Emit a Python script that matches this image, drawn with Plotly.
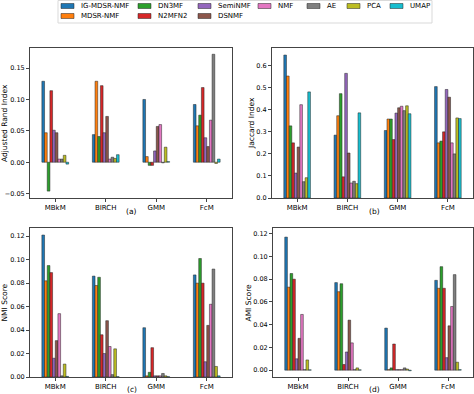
import plotly.graph_objects as go

W, H = 474, 394

categories = ["MBkM", "BIRCH", "GMM", "FcM"]
methods = ["IG-MDSR-NMF", "MDSR-NMF", "DN3MF", "N2MFN2", "SemiNMF",
           "DSNMF", "NMF", "AE", "PCA", "UMAP"]
colors = ["#1f77b4", "#ff7f0e", "#2ca02c", "#d62728", "#9467bd",
          "#8c564b", "#e377c2", "#7f7f7f", "#bcbd22", "#17becf"]

# values[method] = [MBkM, BIRCH, GMM, FcM]
ari = {
    "IG-MDSR-NMF": [0.129, 0.044, 0.100, 0.092],
    "MDSR-NMF":    [0.047, 0.129, 0.009, 0.058],
    "DN3MF":       [-0.046, 0.041, -0.005, 0.075],
    "N2MFN2":      [0.114, 0.122, -0.005, 0.119],
    "SemiNMF":     [0.051, 0.047, 0.018, 0.039],
    "DSNMF":       [0.047, 0.073, 0.057, 0.025],
    "NMF":         [0.005, 0.005, 0.060, 0.067],
    "AE":          [0.005, 0.008, -0.001, 0.172],
    "PCA":         [0.011, 0.006, 0.024, -0.002],
    "UMAP":        [-0.003, 0.012, 0.001, 0.005],
}
jaccard = {
    "IG-MDSR-NMF": [0.648, 0.285, 0.306, 0.505],
    "MDSR-NMF":    [0.553, 0.373, 0.358, 0.250],
    "DN3MF":       [0.327, 0.473, 0.358, 0.258],
    "N2MFN2":      [0.250, 0.096, 0.265, 0.300],
    "SemiNMF":     [0.113, 0.565, 0.385, 0.492],
    "DSNMF":       [0.231, 0.204, 0.409, 0.457],
    "NMF":         [0.423, 0.068, 0.416, 0.250],
    "AE":          [0.074, 0.076, 0.396, 0.200],
    "PCA":         [0.092, 0.065, 0.418, 0.363],
    "UMAP":        [0.481, 0.386, 0.382, 0.360],
}
nmi = {
    "IG-MDSR-NMF": [0.121, 0.086, 0.042, 0.087],
    "MDSR-NMF":    [0.082, 0.078, 0.001, 0.080],
    "DN3MF":       [0.095, 0.085, 0.004, 0.101],
    "N2MFN2":      [0.089, 0.036, 0.025, 0.080],
    "SemiNMF":     [0.016, 0.020, 0.001, 0.013],
    "DSNMF":       [0.031, 0.048, 0.001, 0.044],
    "NMF":         [0.054, 0.026, 0.001, 0.062],
    "AE":          [0.001, 0.002, 0.003, 0.092],
    "PCA":         [0.011, 0.024, 0.001, 0.009],
    "UMAP":        [0.0005, 0.0003, 0.0003, 0.001],
}
ami = {
    "IG-MDSR-NMF": [0.117, 0.077, 0.037, 0.079],
    "MDSR-NMF":    [0.073, 0.069, 0.0005, 0.072],
    "DN3MF":       [0.085, 0.076, 0.002, 0.091],
    "N2MFN2":      [0.080, 0.005, 0.023, 0.072],
    "SemiNMF":     [0.010, 0.016, 0.0005, 0.011],
    "DSNMF":       [0.028, 0.044, 0.0005, 0.039],
    "NMF":         [0.049, 0.024, 0.0005, 0.056],
    "AE":          [0.0005, 0.0005, 0.002, 0.084],
    "PCA":         [0.009, 0.002, 0.001, 0.007],
    "UMAP":        [0.0003, 0.0003, -0.0005, 0.0005],
}

panels = [
    (ari, "Adjusted Rand Index", "(a)", [-0.057, 0.182], [-0.05, 0, 0.05, 0.10, 0.15], ".2f"),
    (jaccard, "Jaccard Index", "(b)", [0, 0.68], [0, 0.1, 0.2, 0.3, 0.4, 0.5, 0.6], ".1f"),
    (nmi, "NMI Score", "(c)", [0, 0.127], [0, 0.02, 0.04, 0.06, 0.08, 0.10, 0.12], ".2f"),
    (ami, "AMI Score", "(d)", [-0.006, 0.125], [0, 0.02, 0.04, 0.06, 0.08, 0.10, 0.12], ".2f"),
]

# panel pixel boxes: (left, right, top, bottom)
boxes = [(30, 232, 48, 198), (272, 473, 48, 198),
         (30, 232, 228, 377), (273, 473, 228, 377)]
ytitle_x = [4, 251, 4, 248]          # centre x of the y-axis titles (px)
label_pos = [(131, 212), (374, 212), (132, 389), (374, 389)]

FONT = "DejaVu Sans"
TICK = 6.5
fig = go.Figure()
layout = dict(
    width=W, height=H, margin=dict(l=0, r=0, t=0, b=0, autoexpand=False),
    paper_bgcolor="white", plot_bgcolor="white",
    barmode="group", bargap=0.47, bargroupgap=0,
    showlegend=False, font=dict(family=FONT, size=8, color="black"),
)
annotations = []

for p, (data, ytitle, label, yr, tv, fmt) in enumerate(panels):
    sfx = "" if p == 0 else str(p + 1)
    for m, c in zip(methods, colors):
        fig.add_trace(go.Bar(
            x=categories, y=data[m], name=m, marker_color=c,
            marker_line=dict(color="#222", width=0.5),
            xaxis="x" + sfx, yaxis="y" + sfx, offsetgroup=m,
        ))
    l, r, t, b = boxes[p]
    layout["xaxis" + sfx] = dict(
        domain=[l / W, r / W], anchor="y" + sfx, automargin=False,
        showline=True, mirror=True, linecolor="#444", linewidth=1,
        ticks="outside", ticklen=3, tickcolor="#444",
        tickfont=dict(size=TICK + 0.5), showgrid=False,
    )
    layout["yaxis" + sfx] = dict(
        domain=[1 - b / H, 1 - t / H], anchor="x" + sfx, range=yr, automargin=False,
        tickvals=tv, tickformat=fmt,
        showline=True, mirror=True, linecolor="#444", linewidth=1,
        ticks="outside", ticklen=3, tickcolor="#444",
        tickfont=dict(size=TICK), showgrid=False, zeroline=False,
    )
    annotations.append(dict(xref="paper", yref="paper", x=ytitle_x[p] / W,
                            y=1 - (t + b) / 2 / H, text=ytitle, textangle=-90,
                            showarrow=False, xanchor="center", yanchor="middle",
                            font=dict(size=7.5, family=FONT)))
    lx, ly = label_pos[p]
    annotations.append(dict(xref="paper", yref="paper", x=lx / W, y=1 - ly / H,
                            text=label, showarrow=False, xanchor="center",
                            yanchor="middle", font=dict(size=7.5, family=FONT)))

fig.update_layout(**layout)

# legend (matplotlib style, two rows, column-major)
col_x = [61, 138, 198, 258, 307, 347, 390]
row_y = [6, 16]
shapes = [dict(type="rect", xref="paper", yref="paper",
               x0=58 / W, x1=432 / W, y0=1 - 23 / H, y1=1 - 0.5 / H,
               line=dict(color="#d9d9d9", width=1), fillcolor="white", layer="above")]
slot = [(0, 0), (0, 1), (1, 0), (1, 1), (2, 0), (2, 1), (3, 0), (4, 0), (5, 0), (6, 0)]
for (ci, ri), m, c in zip(slot, methods, colors):
    x0, y0 = col_x[ci], row_y[ri]
    shapes.append(dict(type="rect", xref="paper", yref="paper",
                       x0=x0 / W, x1=(x0 + 13) / W,
                       y0=1 - (y0 + 2.5) / H, y1=1 - (y0 - 2.5) / H,
                       fillcolor=c, line=dict(color="#222", width=0.5), layer="above"))
    annotations.append(dict(xref="paper", yref="paper", x=(x0 + 18) / W, y=1 - y0 / H,
                            text=m, showarrow=False, xanchor="left", yanchor="middle",
                            font=dict(size=7, family=FONT)))
fig.update_layout(shapes=shapes, annotations=annotations)

fig.write_html("out.html", config={"displayModeBar": False},
               post_script="document.body.style.margin='0';document.body.style.overflow='hidden';")
